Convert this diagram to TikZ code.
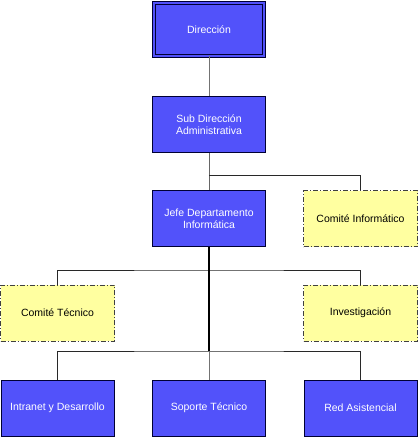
\documentclass[tikz,border=0pt]{standalone}
\usepackage{fontspec}
\setmainfont{Liberation Sans}
\definecolor{azul}{RGB}{82,82,250}
\definecolor{amarillo}{RGB}{255,255,160}
\definecolor{linea}{RGB}{40,40,40}
\begin{document}
\begin{tikzpicture}[x=1pt,y=-1pt,
  every node/.style={inner sep=0pt,align=center,font=\fontsize{10.5}{12.5}\selectfont},
  puesto/.style={draw=black!80!blue,fill=azul,text=white,minimum width=113pt,minimum height=56pt,line width=0.8pt},
  comite/.style={draw=black!75,fill=amarillo,text=black,minimum width=114pt,minimum height=56pt,line width=0.9pt,dash pattern=on 5pt off 2pt on 1pt off 2pt},
  enlace/.style={draw=linea,line width=0.9pt}]
\useasboundingbox (0,0) rectangle (418,437);
\node [puesto,double=azul,double distance=2pt,draw=black!80!blue,line width=0.7pt,minimum height=53pt,minimum width=110pt] (dir) at (209,29.5) {Dirección};
\node [puesto] (sub) at (209,124.5) {Sub Dirección\\Administrativa};
\node [puesto] (jefe) at (209,218.5) {Jefe Departamento\\Informática};
\node [comite] (cinf) at (360.5,218.5) {Comité Informático};
\node [comite] (ctec) at (57.5,313) {Comité Técnico};
\node [comite] (inv) at (360.5,313) {Investigación};
\node [puesto] (intra) at (57.5,408) {Intranet y Desarrollo};
\node [puesto] (sop) at (209,408) {Soporte Técnico};
\node [puesto] (red) at (360.5,408) {Red Asistencial};
\coordinate (b1) at (209,175);
\coordinate (b2) at (209,270);
\coordinate (b3) at (209,351);
\draw [enlace,draw=black!55] (dir) -- (sub);
\draw [enlace,draw=black!60] (sub) -- (jefe);
\draw [enlace] (b1) -| (cinf);
\draw [enlace] (ctec) |- (b2) -| (inv);
\draw [enlace] (intra) |- (b3) -| (red);
\draw [enlace,line width=1.6pt,draw=black] (jefe) -- (b3);
\draw [enlace,draw=black!55] (b3) -- (sop);
\end{tikzpicture}
\end{document}
